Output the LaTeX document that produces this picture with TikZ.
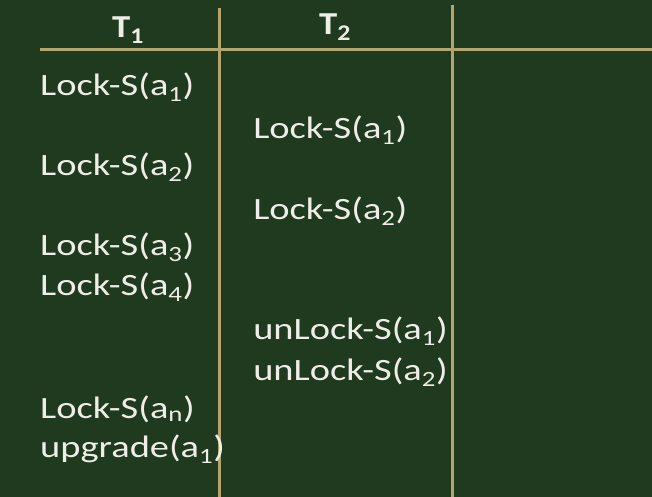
\documentclass[tikz,border=0pt]{standalone}
\usepackage{fontspec}
\setmainfont{Carlito}
\definecolor{board}{HTML}{1F3A1F}
\definecolor{rule}{HTML}{B3A56C}
\definecolor{chalk}{HTML}{EEEEE6}
\begin{document}
\begin{tikzpicture}[x=1pt,y=-1pt,
  txt/.style={anchor=west,inner sep=0pt,text=chalk,font=\fontsize{31}{36}\selectfont,xscale=1.24},
  hd/.style={inner sep=0pt,text=chalk,font=\fontsize{32}{36}\selectfont\bfseries,xscale=1.15},
  ln/.style={rule,line width=3pt}]
\fill[board] (0,0) rectangle (652,497);
\useasboundingbox (0,0) rectangle (652,497);
\coordinate (h1) at (40,50); \coordinate (h2) at (652,50);
\coordinate (v1a) at (219,8); \coordinate (v1b) at (219,497);
\coordinate (v2a) at (452,5); \coordinate (v2b) at (452,497);
\draw[ln] (h1) -- (h2);
\draw[ln] (v1a) -- (v1b);
\draw[ln] (v2a) -- (v2b);
\node[hd] (t1) at (128,30) {T\textsubscript{1}};
\node[hd] (t2) at (335,27) {T\textsubscript{2}};
\node[txt] (a) at (40,87) {Lock-S(a\textsubscript{1})};
\node[txt] (b) at (253,130) {Lock-S(a\textsubscript{1})};
\node[txt] (c) at (40,167) {Lock-S(a\textsubscript{2})};
\node[txt] (d) at (253,211) {Lock-S(a\textsubscript{2})};
\node[txt] (e) at (40,247) {Lock-S(a\textsubscript{3})};
\node[txt] (f) at (40,287) {Lock-S(a\textsubscript{4})};
\node[txt] (g) at (253,331) {unLock-S(a\textsubscript{1})};
\node[txt] (h) at (253,372) {unLock-S(a\textsubscript{2})};
\node[txt] (i) at (40,409) {Lock-S(a\textsubscript{n})};
\node[txt] (j) at (40,449) {upgrade(a\textsubscript{1})};
\end{tikzpicture}
\end{document}
